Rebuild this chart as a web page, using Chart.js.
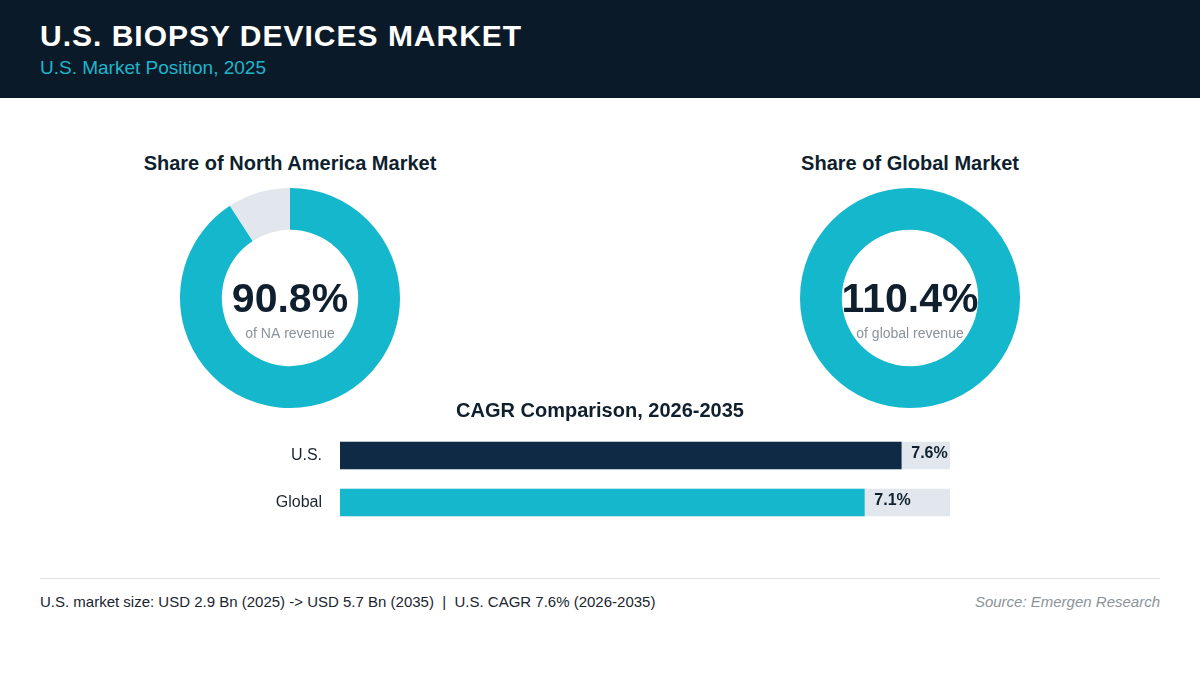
<!DOCTYPE html>
<html>
<head>
<meta charset="utf-8">
<script src="https://cdn.jsdelivr.net/npm/chart.js@4"></script>
<style>
  html, body { margin: 0; padding: 0; }
  body { width: 1200px; height: 675px; background: #fff; position: relative; overflow: hidden;
         font-family: "Liberation Sans", Arial, sans-serif; }
  .header { position: absolute; left: 0; top: 0; width: 1200px; height: 98px; background: #0b1a29; }
  .header h1 { position: absolute; left: 40px; top: 19px; margin: 0; color: #fff; font-size: 30px;
               font-weight: bold; letter-spacing: 1px; }
  .header h2 { position: absolute; left: 40px; top: 57px; margin: 0; color: #1fb5c9; font-size: 19px;
               font-weight: normal; }
  .title { position: absolute; font-size: 20px; font-weight: bold; color: #0f1f2e; text-align: center; }
  .box { position: absolute; }
  .footline { position: absolute; left: 40px; top: 578px; width: 1120px; height: 1px; background: #dde1e5; }
  .foot { position: absolute; top: 593px; font-size: 15px; color: #1a2530; }
  .src { position: absolute; top: 593px; right: 40px; font-size: 15px; color: #8a9399; font-style: italic; }
</style>
</head>
<body>
<div class="header">
  <h1>U.S. BIOPSY DEVICES MARKET</h1>
  <h2>U.S. Market Position, 2025</h2>
</div>

<div class="title" style="left:90px; top:152px; width:400px;">Share of North America Market</div>
<div class="title" style="left:710px; top:152px; width:400px;">Share of Global Market</div>
<div class="box" style="left:180px; top:188px; width:220px; height:220px;"><canvas id="naDonut"></canvas></div>
<div class="box" style="left:800px; top:188px; width:220px; height:220px;"><canvas id="glDonut"></canvas></div>

<div class="title" style="left:350px; top:399px; width:500px;">CAGR Comparison, 2026-2035</div>
<canvas id="cagrBar" width="690" height="94" style="position:absolute; left:260px; top:432px; width:690px; height:94px;"></canvas>

<div class="footline"></div>
<div class="foot" style="left:40px;">U.S. market size: USD 2.9 Bn (2025) -&gt; USD 5.7 Bn (2035) &nbsp;|&nbsp; U.S. CAGR 7.6% (2026-2035)</div>
<div class="src">Source: Emergen Research</div>

<script>
// data
var naShare = 90.8;
var globalShare = 110.4;
var cagrLabels = ['U.S.', 'Global'];
var cagrValues = [7.6, 7.1];
var cagrMax = 8.26;

var teal = '#14b7cb';
var navy = '#0f2a44';
var track = '#e1e7ec';

Chart.defaults.font.family = '"Liberation Sans", Arial, sans-serif';

var centerText = {
    id: 'centerText',
    afterDraw: function(chart, args, opts) {
        var c = chart.ctx;
        var meta = chart.getDatasetMeta(0).data[0];
        var x = meta.x, y = meta.y;
        c.save();
        c.textAlign = 'center';
        c.textBaseline = 'middle';
        c.fillStyle = '#0f1f2e';
        c.font = 'bold 41px "Liberation Sans", Arial, sans-serif';
        c.fillText(opts.value, x, y + 3);
        c.fillStyle = '#8a9399';
        c.font = '14px "Liberation Sans", Arial, sans-serif';
        c.fillText(opts.sub, x, y + 36);
        c.restore();
    }
};

function donut(id, share, sub) {
    var ctx = document.getElementById(id);
    return new Chart(ctx, {
        type: 'doughnut',
        data: {
            labels: ['Share', 'Rest'],
            datasets: [{
                data: [Math.min(share, 100), Math.max(0, 100 - share)],
                backgroundColor: [teal, track],
                borderWidth: 0
            }]
        },
        options: {
            responsive: true,
            maintainAspectRatio: false,
            animation: false,
            cutout: '62%',
            layout: { padding: 0 },
            plugins: {
                legend: { display: false },
                tooltip: { enabled: false },
                centerText: { value: share.toFixed(1) + '%', sub: sub }
            }
        },
        plugins: [centerText]
    });
}

donut('naDonut', naShare, 'of NA revenue');
donut('glDonut', globalShare, 'of global revenue');

var barLabels = {
    id: 'barLabels',
    afterDatasetsDraw: function(chart) {
        var c = chart.ctx;
        var meta = chart.getDatasetMeta(0);
        c.save();
        c.fillStyle = '#0f1f2e';
        c.font = 'bold 16px "Liberation Sans", Arial, sans-serif';
        c.textAlign = 'left';
        c.textBaseline = 'middle';
        meta.data.forEach(function(bar, i) {
            c.fillText(cagrValues[i].toFixed(1) + '%', bar.x + 10, bar.y - 2);
        });
        c.restore();
    }
};

new Chart(document.getElementById('cagrBar'), {
    type: 'bar',
    data: {
        labels: cagrLabels,
        datasets: [{
            data: cagrValues,
            backgroundColor: [navy, teal],
            barThickness: 27,
            order: 0
        }, {
            data: cagrLabels.map(function() { return cagrMax; }),
            backgroundColor: track,
            barThickness: 27,
            order: 1
        }]
    },
    options: {
        indexAxis: 'y',
        responsive: false,
        animation: false,
        layout: { padding: 0 },
        datasets: { bar: { grouped: false } },
        scales: {
            x: { display: false, min: 0, max: cagrMax },
            y: {
                grid: { display: false, drawTicks: false },
                border: { display: false },
                ticks: { color: '#1a2530', font: { size: 16 }, padding: 18 },
                afterFit: function(scale) {
                    scale.width = 80;
                    scale.paddingTop = 0;
                    scale.paddingBottom = 0;
                }
            }
        },
        plugins: { legend: { display: false }, tooltip: { enabled: false } }
    },
    plugins: [barLabels]
});
</script>
</body>
</html>
